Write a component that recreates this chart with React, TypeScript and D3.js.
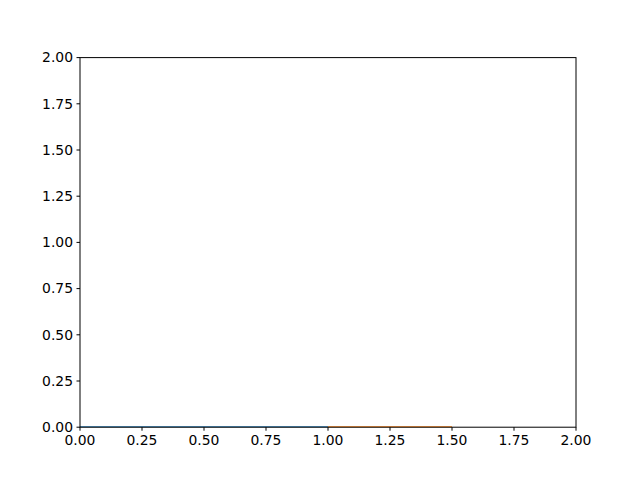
import * as d3 from "d3";

const blueX = [0, 1];
const blueY = [0, 0];
const orangeX = [1, 1.5];
const orangeY = [0, 0];
const xTicks = [0, 0.25, 0.5, 0.75, 1, 1.25, 1.5, 1.75, 2];
const yTicks = [0, 0.25, 0.5, 0.75, 1, 1.25, 1.5, 1.75, 2];

const W = 640;
const H = 480;
const left = 80;
const right = 576;
const top = 57.6;
const bottom = 427.2;

export default function App() {
  const x = d3.scaleLinear().domain([0, 2]).range([left, right]);
  const y = d3.scaleLinear().domain([0, 2]).range([bottom, top]);

  const line = d3
    .line<[number, number]>()
    .x((d) => x(d[0]))
    .y((d) => y(d[1]));

  const blue = line(d3.zip(blueX, blueY) as [number, number][]) ?? undefined;
  const orange = line(d3.zip(orangeX, orangeY) as [number, number][]) ?? undefined;

  return (
    <svg
      width={W}
      height={H}
      style={{ position: "absolute", left: 0, top: 0, fontFamily: "DejaVu Sans" }}
    >
      <rect width={W} height={H} fill="white" />
      <defs>
        <clipPath id="plot">
          <rect x={left} y={top} width={right - left} height={bottom - top} />
        </clipPath>
      </defs>
      <g clipPath="url(#plot)">
        <path d={blue} fill="none" stroke="#1f77b4" strokeWidth={2} />
        <path d={orange} fill="none" stroke="#ff7f0e" strokeWidth={2} />
      </g>
      <rect
        x={left}
        y={top}
        width={right - left}
        height={bottom - top}
        fill="none"
        stroke="black"
        strokeWidth={1}
      />
      {xTicks.map((t) => (
        <g key={"x" + t} transform={`translate(${x(t)},${bottom})`}>
          <line y2={3.5} stroke="black" />
          <text y={18} textAnchor="middle" fontSize={13.9} fill="black">
            {t.toFixed(2)}
          </text>
        </g>
      ))}
      {yTicks.map((t) => (
        <g key={"y" + t} transform={`translate(${left},${y(t)})`}>
          <line x2={-3.5} stroke="black" />
          <text x={-7} dy="0.35em" textAnchor="end" fontSize={13.9} fill="black">
            {t.toFixed(2)}
          </text>
        </g>
      ))}
    </svg>
  );
}
